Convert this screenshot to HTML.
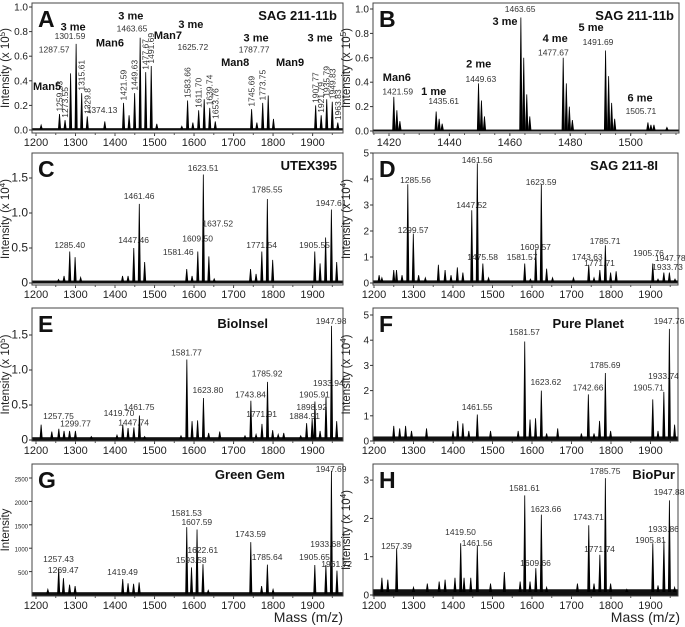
<!DOCTYPE html>
<html><head><meta charset="utf-8"><style>
html,body{margin:0;padding:0;background:#fff;}
svg{display:block;font-family:"Liberation Sans",sans-serif;}
</style></head><body>
<svg id="fig" width="685" height="627" viewBox="0 0 685 627" xmlns="http://www.w3.org/2000/svg"></svg>
<script>
// ---------- Data (mass, intensity) ----------
const aMass=[1213,1259.53,1273.55,1287.57,1301.59,1315.61,1329.8,1374.13,1421.59,1435.61,1449.63,1463.65,1477.67,1491.69,1505.7,1569,1583.66,1597,1611.70,1625.72,1639.74,1653.76,1745.69,1759,1773.75,1787.77,1801,1907.77,1921.79,1935.79,1949.83,1963.83];
const aInt=[0.04,0.13,0.08,0.46,0.70,0.30,0.11,0.07,0.22,0.12,0.30,0.75,0.47,0.52,0.05,0.03,0.24,0.06,0.16,0.25,0.18,0.07,0.17,0.06,0.22,0.28,0.09,0.20,0.12,0.25,0.23,0.06];
const aLabels=[["1287.57",1246,0.63,0],["1301.59",1286,0.74,0],["1374.13",1367,0.14,0],["1463.65",1443,0.80,0],["1625.72",1597,0.65,0],["1787.77",1752,0.63,0],
["1259.53",1259.53,0.15,1],["1273.55",1273.55,0.10,1],["1315.61",1315.61,0.32,1],["1329.8",1329.8,0.13,1],["1421.59",1421.59,0.24,1],["1449.63",1449.63,0.32,1],["1477.67",1477.67,0.49,1],["1491.69",1491.69,0.54,1],["1583.66",1583.66,0.26,1],["1611.70",1611.70,0.18,1],["1639.74",1639.74,0.20,1],["1653.76",1653.76,0.09,1],["1745.69",1745.69,0.19,1],["1773.75",1773.75,0.24,1],["1907.77",1907.77,0.22,1],["1921.79",1921.79,0.14,1],["1935.79",1935.79,0.27,1],["1949.83",1949.83,0.25,1],["1963.83",1963.83,0.08,1]];
const aBold=[["Man5",1228,0.325],["3 me",1294,0.81],["Man6",1387,0.68],["3 me",1440,0.90],["Man7",1534,0.74],["3 me",1592,0.83],["Man8",1704,0.52],["3 me",1757,0.72],["Man9",1843,0.52],["3 me",1919,0.72]];

const bMass=[1421.59,1422.6,1423.6,1435.61,1436.6,1437.6,1449.63,1450.6,1451.6,1463.65,1464.6,1465.6,1466.6,1477.67,1478.7,1479.7,1480.7,1491.69,1492.7,1493.7,1494.7,1505.71,1506.7,1507.7,1512];
const bInt=[0.28,0.17,0.08,0.16,0.10,0.06,0.39,0.25,0.12,0.93,0.60,0.30,0.12,0.60,0.39,0.20,0.09,0.66,0.45,0.23,0.10,0.07,0.05,0.05,0.03];
const bLabels=[["1421.59",1422.9,0.30,0],["1435.61",1438.1,0.22,0],["1449.63",1450.4,0.40,0],["1463.65",1463.4,0.975,0],["1477.67",1474.4,0.62,0],["1491.69",1489.2,0.705,0],["1505.71",1503.4,0.14,0]];
const bBold=[["Man6",1422.6,0.41],["1 me",1434.8,0.295],["2 me",1449.7,0.52],["3 me",1458.4,0.87],["4 me",1475.0,0.73],["5 me",1486.9,0.82],["6 me",1503.1,0.24]];

const cMass=[1257,1271,1285.40,1299,1313,1419,1433,1447.46,1461.46,1475,1581.46,1595,1609.50,1623.51,1637.52,1651,1743,1757,1771.54,1785.55,1799,1905.55,1919,1933,1947.61,1961];
const cInt=[0.05,0.10,0.45,0.37,0.08,0.10,0.10,0.50,1.13,0.30,0.20,0.10,0.45,1.55,0.38,0.06,0.20,0.13,0.45,1.20,0.33,0.45,0.28,0.65,1.05,0.30];
const cLabels=[["1285.40",1285.4,0.5,0],["1447.46",1447,0.57,0],["1461.46",1461,1.2,0],["1581.46",1560,0.4,0],["1609.50",1609,0.59,0],["1623.51",1623,1.6,0],["1637.52",1660,0.81,0],["1771.54",1771,0.5,0],["1785.55",1785,1.29,0],["1905.55",1905,0.5,0],["1947.61",1947,1.1,0]];

const dMass=[1213,1220,1250,1257,1271,1285.56,1299.57,1313,1330,1363,1380,1395,1411,1425,1447.52,1461.56,1475.58,1490,1581.57,1596,1609.57,1623.59,1637,1652,1705,1743.63,1757,1771.71,1785.71,1799,1813,1905.76,1919,1933.73,1947.78,1962];
const dInt=[0.3,0.2,0.5,0.5,0.3,3.8,1.9,0.3,0.2,0.7,0.5,0.3,0.6,0.4,2.8,4.6,0.75,0.2,0.75,0.15,1.3,3.8,0.55,0.2,0.2,0.7,0.2,0.5,1.45,0.4,0.45,0.75,0.15,0.4,0.4,0.15];
const dLabels=[["1285.56",1305,3.85,0],["1299.57",1299,1.92,0],["1447.52",1447,2.88,0],["1461.56",1461,4.62,0],["1475.58",1475,0.88,0],["1581.57",1575,0.88,0],["1609.57",1609,1.27,0],["1623.59",1623,3.77,0],["1743.63",1740,0.88,0],["1771.71",1771,0.65,0],["1785.71",1785,1.5,0],["1905.76",1895,1.04,0],["1947.78",1950,0.85,0],["1933.73",1943,0.5,0]];

const eMass=[1213,1240,1257.75,1271,1285,1299.77,1340,1405,1419.70,1433,1447.74,1461.75,1475,1567,1581.77,1595,1609,1623.80,1637,1665,1729,1743.84,1757,1771.91,1785.92,1799,1813,1827,1870,1884.91,1898.92,1905.91,1919,1933.94,1947.98,1961];
const eInt=[0.22,0.12,0.16,0.13,0.13,0.13,0.05,0.07,0.22,0.17,0.18,0.35,0.05,0.06,1.15,0.27,0.28,0.60,0.10,0.12,0.06,0.56,0.08,0.23,0.83,0.14,0.08,0.10,0.06,0.24,0.30,0.55,0.13,0.62,1.63,0.27];
const eLabels=[["1257.75",1257,0.3,0],["1299.77",1300,0.19,0],["1419.70",1410,0.34,0],["1461.75",1461,0.43,0],["1447.74",1447,0.21,0],["1581.77",1581,1.21,0],["1623.80",1635,0.67,0],["1743.84",1743,0.61,0],["1785.92",1785,0.91,0],["1771.91",1771,0.33,0],["1933.94",1940,0.77,0],["1905.91",1905,0.61,0],["1898.92",1898,0.43,0],["1884.91",1880,0.30,0],["1947.98",1947,1.66,0]];

const fMass=[1250,1265,1280,1295,1333,1400,1412,1425,1440,1461.55,1495,1565,1581.57,1595,1609,1623.62,1637,1665,1725,1742.66,1757,1771,1785.69,1799,1905.71,1919,1933.74,1947.76,1961];
const fInt=[0.6,0.5,0.6,0.4,0.5,0.4,0.8,0.7,0.4,1.05,0.4,0.4,3.95,0.85,0.9,2.0,0.3,0.5,0.3,1.85,0.3,0.8,2.7,0.4,1.65,0.4,1.95,4.45,0.65];
const fLabels=[["1461.55",1461,1.23,0],["1581.57",1581,4.2,0],["1623.62",1635,2.22,0],["1742.66",1742,2.0,0],["1785.69",1785,2.9,0],["1905.71",1895,2.0,0],["1933.74",1933,2.46,0],["1947.76",1947,4.64,0]];

const gMass=[1230,1257.43,1269.47,1285,1299,1419.49,1433,1447,1461,1581.53,1593.58,1607.59,1622.61,1636,1743.59,1771,1785.64,1800,1905.65,1933.68,1947.69,1961.72];
const gInt=[120,560,360,220,190,340,250,240,270,1450,590,1400,660,100,1130,190,650,120,640,640,2650,520];
const gLabels=[["1257.43",1257,705,0],["1269.47",1269,470,0],["1419.49",1419,430,0],["1581.53",1581,1690,0],["1607.59",1607,1500,0],["1593.58",1593,680,0],["1622.61",1622,900,0],["1743.59",1743,1240,0],["1785.64",1785,750,0],["1905.65",1905,750,0],["1933.68",1933,1025,0],["1961.72",1961,600,0],["1947.69",1947,2630,0]];

const hMass=[1220,1235,1257.39,1300,1335,1365,1380,1405,1419.50,1428,1445,1461.56,1495,1530,1570,1581.61,1595,1609.66,1623.66,1637,1715,1743.71,1757,1771.74,1785.75,1799,1840,1905.81,1919,1933.86,1947.88,1961];
const hInt=[0.45,0.4,1.22,0.2,0.3,0.35,0.4,0.45,1.35,0.45,0.45,1.28,0.3,0.6,0.35,2.6,0.35,0.7,2.1,0.2,0.3,1.82,0.3,1.05,3.05,0.3,0.15,1.35,0.25,1.42,2.47,0.2];
const hLabels=[["1257.39",1257,1.2,0],["1419.50",1419,1.57,0],["1461.56",1461,1.28,0],["1581.61",1581,2.72,0],["1623.66",1635,2.17,0],["1609.66",1609,0.76,0],["1743.71",1743,1.96,0],["1771.74",1771,1.12,0],["1785.75",1785,3.16,0],["1905.81",1900,1.36,0],["1933.86",1933,1.64,0],["1947.88",1947,2.61,0]];

const massTicks=[1200,1300,1400,1500,1600,1700,1800,1900];
const massTicksB=[1420,1440,1460,1480,1500];
const ticksA=[0,0.2,0.4,0.6,0.8,1.0];
const ticksC=[0,0.5,1.0,1.5];
const ticksD=[0,1,2,3,4,5];
const ticksG=[500,1000,1500,2000,2500];
const ticksH=[0,1,2,3];

// ---------- Rendering ----------
const NS="http://www.w3.org/2000/svg";
const svg=document.getElementById('fig');
function mk(tag,attrs,parent){const e=document.createElementNS(NS,tag);for(const k in attrs)e.setAttribute(k,attrs[k]);(parent||svg).appendChild(e);return e;}

function panel(p){
  const g=mk('g',{});
  
  
  const xs=m=>p.bx0+(m-p.mmin)/(p.mmax-p.mmin)*(p.bx1-p.bx0);
  const ys=v=>p.zy-v*p.ppu;
  const clipId='clip'+p.letter;
  const cp=mk('clipPath',{id:clipId},g);
  mk('rect',{x:p.bx0,y:p.by0,width:p.bx1-p.bx0,height:p.by1-p.by0},cp);
  const band=mk('rect',{x:p.bx0,y:ys(p.noise),width:p.bx1-p.bx0,height:ys(0)-ys(p.noise)+0.5,fill:'#111'},g);
  
  
  const tg=mk('g',{'clip-path':'url(#'+clipId+')'},g);
  
  
  p.mass.forEach((m,i)=>{
    const x=xs(m),hw=p.hw;
    const pk=mk('path',{d:`M${x-hw},${ys(p.noise*0.6)} L${x},${ys(p.ints[i])} L${x+hw},${ys(p.noise*0.6)} Z`,fill:'#000',stroke:'#000','stroke-width':0.8},tg);
    
    
  });
  const fr=mk('rect',{x:p.bx0,y:p.by0,width:p.bx1-p.bx0,height:p.by1-p.by0,fill:'none',stroke:'#444','stroke-width':1},g);
  
  
  p.xt.forEach(t=>{
    const x=xs(t);
    mk('line',{x1:x,x2:x,y1:p.by1,y2:p.by1+3,stroke:'#333'},g);
    const tx=mk('text',{x:x,y:p.by1+13,'font-size':11,'text-anchor':'middle',fill:'#222'},g);
    tx.textContent=t;
    
    
  });
  for(let t=p.xt[0]-p.xminor;t<=p.mmax;t+=p.xminor){if(t<p.mmin)continue;const x=xs(t);mk('line',{x1:x,x2:x,y1:p.by1,y2:p.by1+2,stroke:'#555'},g);}
  p.yt.forEach(t=>{
    const y=ys(t);
    mk('line',{x1:p.bx0-3,x2:p.bx0,y1:y,y2:y,stroke:'#333'},g);
    const tx=mk('text',{x:p.bx0-4,y:y+3.5,'font-size':p.ytfs,'text-anchor':'end',fill:'#222'},g);
    tx.textContent=p.ytfmt(t);
    
    
  });
  const cy=(p.by0+p.by1)/2, tx0=p.bx0-23;
  const yt=mk('text',{x:tx0,y:cy,'font-size':11.5,'text-anchor':'middle',fill:'#222',transform:`rotate(-90 ${tx0} ${cy})`},g);
  
  
  if(p.exp){yt.appendChild(document.createTextNode('Intensity (x 10'));const s=mk('tspan',{dy:-4,'font-size':8},yt);s.textContent=p.exp;const s2=mk('tspan',{dy:4},yt);s2.textContent=')';}
  else yt.textContent='Intensity';
  p.labels.forEach(l=>{
    let t;
    if(l[3]){const x=xs(l[1])+3,y=ys(l[2]);t=mk('text',{x:x,y:y,'font-size':8.5,fill:'#333',transform:`rotate(-90 ${x} ${y})`},g);}
    else t=mk('text',{x:xs(l[1]),y:ys(l[2]),'font-size':8.5,'text-anchor':'middle',fill:'#333'},g);
    t.textContent=l[0];
    
    
  });
  (p.bold||[]).forEach(b=>{
    const t=mk('text',{x:xs(b[1]),y:ys(b[2]),'font-size':11,'font-weight':'bold','text-anchor':'middle',fill:'#111'},g);
    t.textContent=b[0];
    
    
  });
  const L=mk('text',{x:p.bx0+6,y:p.by0+24,'font-size':23,'font-weight':'bold',fill:'#111'},g);
  L.textContent=p.letter;
  
  
  const T=mk('text',{x:p.tx,y:p.by0+p.tdy,'font-size':13,'font-weight':'bold','text-anchor':'end',fill:'#111'},g);
  T.textContent=p.title;
  
  
}

const L0={bx0:32,bx1:343,mmin:1189.9,mmax:1977,xt:massTicks,xminor:50,hw:1.1};
const R0={bx0:373,bx1:678,mmin:1197.5,mmax:1969.6,xt:massTicks,xminor:50,hw:1.1};
const f1=t=>t.toFixed(1), f0=t=>String(t), fC=t=>t===0?'0':t.toFixed(1);

panel(Object.assign({},L0,{letter:'A',by0:3,by1:133,zy:130,ppu:123,noise:0.015,mass:aMass,ints:aInt,labels:aLabels,bold:aBold,yt:ticksA,ytfmt:f1,ytfs:10,exp:'5',title:'SAG 211-11b',tx:337,tdy:17}));
panel({letter:'B',bx0:373,bx1:679,mmin:1414.7,mmax:1516,xt:massTicksB,xminor:5,hw:1.2,by0:3,by1:133,zy:131,ppu:122,noise:0.012,mass:bMass,ints:bInt,labels:bLabels,bold:bBold,yt:ticksA,ytfmt:f1,ytfs:10,exp:'5',title:'SAG 211-11b',tx:674,tdy:17});
panel(Object.assign({},L0,{letter:'C',by0:153,by1:285,zy:283,ppu:70,noise:0.035,mass:cMass,ints:cInt,labels:cLabels,yt:ticksC,ytfmt:fC,ytfs:12,exp:'4',title:'UTEX395',tx:337,tdy:17}));
panel(Object.assign({},R0,{letter:'D',by0:153,by1:285,zy:283,ppu:26,noise:0.1,mass:dMass,ints:dInt,labels:dLabels,yt:ticksD,ytfmt:f0,ytfs:10,exp:'4',title:'SAG 211-8I',tx:658,tdy:17}));
panel(Object.assign({},L0,{letter:'E',by0:308,by1:441,zy:440,ppu:70,noise:0.04,mass:eMass,ints:eInt,labels:eLabels,yt:ticksC,ytfmt:fC,ytfs:12,exp:'5',title:'BioInsel',tx:268,tdy:20}));
panel(Object.assign({},R0,{letter:'F',by0:308,by1:441,zy:441,ppu:25.2,noise:0.18,mass:fMass,ints:fInt,labels:fLabels,yt:ticksD,ytfmt:f0,ytfs:10,exp:'4',title:'Pure Planet',tx:624,tdy:20}));
panel(Object.assign({},L0,{letter:'G',by0:464,by1:596,zy:595,ppu:0.0468,noise:60,mass:gMass,ints:gInt,labels:gLabels,yt:ticksG,ytfmt:f0,ytfs:6,exp:null,title:'Green Gem',tx:285,tdy:15}));
panel(Object.assign({},R0,{letter:'H',by0:464,by1:596,zy:595,ppu:38.3,noise:0.15,mass:hMass,ints:hInt,labels:hLabels,yt:ticksH,ytfmt:f0,ytfs:10,exp:'4',title:'BioPur',tx:675,tdy:15}));

[[343,'mass-axis-title-left'],[680,'mass-axis-title-right']].forEach(a=>{
  const t=mk('text',{x:a[0],y:622,'font-size':14,'text-anchor':'end',fill:'#222'});
  t.textContent='Mass (m/z)';
  
  
});
</script>
</body></html>
